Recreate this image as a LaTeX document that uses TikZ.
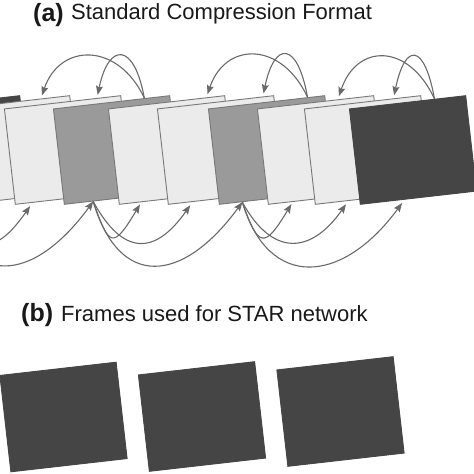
\documentclass[tikz,border=0pt]{standalone}
\usepackage{fontspec}
\setmainfont{Liberation Sans}
\usetikzlibrary{arrows.meta,calc}

\definecolor{icol}{HTML}{454545}
\definecolor{pcol}{HTML}{9A9A9A}
\definecolor{bcol}{HTML}{EBEBEB}
\definecolor{edgecol}{HTML}{787878}
\definecolor{linkcol}{HTML}{6A6A6A}

\tikzset{
  vidframe/.style={rectangle, minimum width=117pt, minimum height=96pt, inner sep=0pt, rotate=6.5, line width=0.9pt},
  Iframe/.style={vidframe, fill=icol, draw=icol},
  Pframe/.style={vidframe, fill=pcol, draw=edgecol},
  Bframe/.style={vidframe, fill=bcol, draw=edgecol},
  predarrow/.style={-{Stealth[length=9pt,width=7pt,inset=1.5pt]}, draw=linkcol, line width=1.1pt},
  caption/.style={anchor=base west, inner sep=0pt, text=black!90}
}

\begin{document}
\begin{tikzpicture}[x=1pt, y=-1pt]
          \useasboundingbox (0,0) rectangle (474,474);
          \fill[white] (0,0) rectangle (474,474);
          \clip (0,0) rectangle (474,474);

          % (a) standard compression order
          \node[caption, font=\bfseries\fontsize{25}{25}\selectfont] (labA) at (33,21.5) {(a)};
          \node[caption, font=\fontsize{22}{22}\selectfont] (titleA) at (71,19) {Standard Compression Format};

          \node[Iframe] (I0) at (-33,150) {};
          \node[Bframe] (B1) at (17,150) {};
          \node[Bframe] (B2) at (68,150) {};
          \node[Pframe] (P1) at (117,150) {};
          \node[Bframe] (B3) at (172,150) {};
          \node[Bframe] (B4) at (221,150) {};
          \node[Pframe] (P2) at (272,150) {};
          \node[Bframe] (B5) at (321,150) {};
          \node[Bframe] (B6) at (368,150) {};
          \node[Iframe] (I1) at (413,150) {};

          % ends on the top edges
          \coordinate (P1t) at ($(P1.north west)!.78!(P1.north east)$);
          \coordinate (P2t) at ($(P2.north west)!.85!(P2.north east)$);
          \coordinate (I1t) at ($(I1.north west)!.73!(I1.north east)$);
          \coordinate (B1t) at ($(B1.north west)!.76!(B1.north east)+(0,-3)$);
          \coordinate (B2t) at ($(B2.north west)!.80!(B2.north east)+(0,-3)$);
          \coordinate (B3t) at ($(B3.north west)!.85!(B3.north east)+(0,-3)$);
          \coordinate (B4t) at ($(B4.north west)!.91!(B4.north east)+(0,-3)$);
          \coordinate (B5t) at ($(B5.north west)!.70!(B5.north east)+(0,-3)$);
          \coordinate (B6t) at ($(B6.north west)!.77!(B6.north east)+(0,-3)$);

          % ends on the bottom edges
          \coordinate (I0b) at ($(I0.south west)!.25!(I0.south east)$);
          \coordinate (P1b) at ($(P1.south west)!.25!(P1.south east)$);
          \coordinate (P2b) at ($(P2.south west)!.20!(P2.south east)$);
          \coordinate (I1b) at ($(I1.south west)!.36!(I1.south east)+(0,3)$);
          \coordinate (B2b) at ($(B2.south west)!.13!(B2.south east)+(0,3)$);
          \coordinate (B3b) at ($(B3.south west)!.18!(B3.south east)+(0,2)$);
          \coordinate (B4b) at ($(B4.south west)!.19!(B4.south east)+(0,3)$);
          \coordinate (B5b) at ($(B5.south west)!.20!(B5.south east)+(0,2)$);
          \coordinate (B6b) at ($(B6.south west)!.265!(B6.south east)+(0,3)$);

          \draw[predarrow] (P1t) .. controls +(-26,-56) and +(18,-53) .. (B1t);
          \draw[predarrow] (P1t) .. controls +(-10,-56) and +(11,-53) .. (B2t);
          \draw[predarrow] (P2t) .. controls +(-26,-56) and +(18,-53) .. (B3t);
          \draw[predarrow] (P2t) .. controls +(-10,-56) and +(11,-53) .. (B4t);
          \draw[predarrow] (I1t) .. controls +(-26,-56) and +(18,-53) .. (B5t);
          \draw[predarrow] (I1t) .. controls +(-10,-56) and +(11,-53) .. (B6t);

          \draw[predarrow] (I0b) .. controls +(30,55) and +(-35,50) .. (B2b);
          \draw[predarrow] (I0b) .. controls +(26,88) and +(-60,82) .. (P1b);
          \draw[predarrow] (P1b) .. controls +(16,46) and +(-27,45) .. (B3b);
          \draw[predarrow] (P1b) .. controls +(30,55) and +(-35,50) .. (B4b);
          \draw[predarrow] (P1b) .. controls +(26,88) and +(-60,82) .. (P2b);
          \draw[predarrow] (P2b) .. controls +(16,46) and +(-27,45) .. (B5b);
          \draw[predarrow] (P2b) .. controls +(30,55) and +(-35,50) .. (B6b);
          \draw[predarrow] (P2b) .. controls +(26,88) and +(-60,82) .. (I1b);

          % (b) frames kept for the network
          \node[caption, font=\bfseries\fontsize{25}{25}\selectfont] (labB) at (21,321) {(b)};
          \node[caption, font=\fontsize{22}{22}\selectfont] (titleB) at (61,321) {Frames used for STAR network};

          \node[Iframe, minimum height=97pt] (S1) at (63.5,417) {};
          \node[Iframe, minimum height=97pt] (S2) at (202,416.5) {};
          \node[Iframe, minimum height=97pt] (S3) at (340.5,411.5) {};
        \end{tikzpicture}
\end{document}
